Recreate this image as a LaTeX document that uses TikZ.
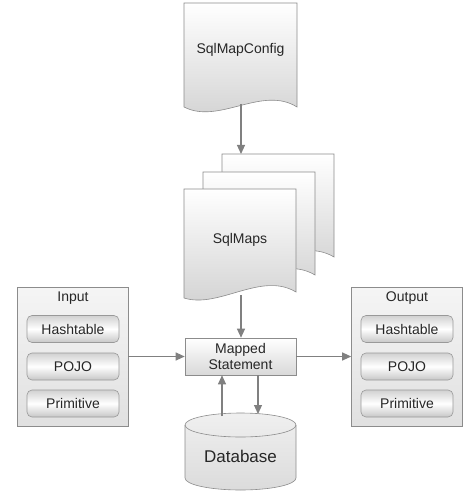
\documentclass[tikz,border=0pt]{standalone}
\usepackage{fontspec}
\setmainfont{Liberation Sans}
\usetikzlibrary{arrows.meta,shapes.geometric}
\begin{document}
\begin{tikzpicture}[x=1pt,y=-1pt,
  edge/.style={draw=black!45,line width=1pt},
  conn/.style={draw=black!50,line width=1.1pt,-{Triangle[length=9pt,width=8pt]}},
  page/.style={draw=black!45,line width=0.6pt,top color=white,bottom color=black!18},
  lbl/.style={font=\fontsize{14}{16.5}\selectfont,text=black!85,align=center,inner sep=0pt},
  container/.style={draw=black!45,line width=0.6pt,top color=black!4,bottom color=black!12,minimum width=111pt,minimum height=139pt,inner sep=0pt},
  item/.style={draw=black!40,line width=0.6pt,rounded corners=5pt,top color=black!18,bottom color=black!22,middle color=white,minimum width=92pt,minimum height=27pt,inner sep=0pt,font=\fontsize{14}{16.5}\selectfont,text=black!85},
  msbox/.style={draw=black!45,line width=0.6pt,top color=white,bottom color=black!15,minimum width=111pt,minimum height=37pt,inner sep=0pt}
]
\useasboundingbox (0,0) rectangle (474,494);

% SqlMapConfig document
\path[page] (184,3) -- (297,3) -- (297,107) .. controls (262,85) and (219,125) .. (184,107) -- cycle;
\node[lbl] (cfg) at (240.5,50) {SqlMapConfig};
\coordinate (cfgb) at (241,104);

% SqlMaps stacked pages
\path[page] (222,154) -- (334,154) -- (334,257) .. controls (299,236) and (257,274) .. (222,263) -- cycle;
\path[page] (203,172) -- (315,172) -- (315,275) .. controls (280,254) and (238,292) .. (203,281) -- cycle;
\path[page] (184,189) -- (296,189) -- (296,292) .. controls (261,271) and (219,309) .. (184,298) -- cycle;
\node[lbl] (maps) at (240,240) {SqlMaps};
\coordinate (mapst) at (241,154);
\coordinate (mapsb) at (241,295);

\draw[conn] (cfgb) -- (mapst);

% Mapped Statement
\node[msbox] (ms) at (240.5,356.5) {};
\node[lbl] (mstext) at (ms.center) {Mapped\\[-1pt]Statement};
\draw[conn] (mapsb) -- (mapsb |- ms.north);

% Input container
\node[container] (in) at (72.5,356.5) {};
\node[lbl] (inlbl) at (73,298) {Input};
\node[item] (inh) at (73,329) {Hashtable};
\node[item] (inp) at (73,366.5) {POJO};
\node[item] (inr) at (73,403.5) {Primitive};

% Output container
\node[container] (out) at (407,356.5) {};
\node[lbl] (outlbl) at (407,298) {Output};
\node[item] (outh) at (407,329) {Hashtable};
\node[item] (outp) at (407,366.5) {POJO};
\node[item] (outr) at (407,403.5) {Primitive};

\draw[conn] (in.east) -- (ms.west);
\draw[conn] (ms.east) -- (out.west);

% Database cylinder
\path[page,top color=black!6,bottom color=black!14] (185,425) -- (185,478) arc[start angle=180,end angle=360,x radius=55.5pt,y radius=12pt] -- (296,425) arc[start angle=0,end angle=180,x radius=55.5pt,y radius=12pt] -- cycle;
\draw[draw=black!45,line width=0.6pt] (185,425) arc[start angle=180,end angle=360,x radius=55.5pt,y radius=12pt];
\node[lbl,font=\fontsize{17}{20}\selectfont] (db) at (240.5,456) {Database};
\coordinate (dbu) at (222,416);
\coordinate (dbd) at (258,414);

\draw[conn] (dbu) -- (dbu |- ms.south);
\draw[conn] (dbd |- ms.south) -- (dbd);
\end{tikzpicture}
\end{document}
